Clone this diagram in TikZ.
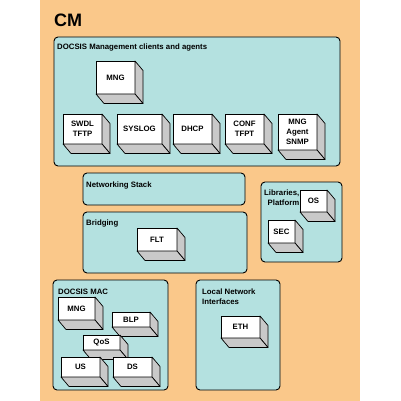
\documentclass[tikz,border=0pt]{standalone}
\usepackage{fontspec}
\setmainfont{Liberation Sans}
\definecolor{cmorange}{HTML}{FAC88A}
\definecolor{panelcyan}{HTML}{B4E1E0}
\newcommand{\cubeblock}[5]{% name, centre, width, height, label
  \node[cubefront,minimum width=#3pt,minimum height=#4pt] (#1) at #2 {#5};
  \filldraw[cubeside] (#1.north east) -- ++(8,9.5)
    -- ([shift={(8,9.5)}]#1.south east) -- (#1.south east) -- cycle;
  \filldraw[cubeside] (#1.south west) -- ([shift={(8,9.5)}]#1.south west)
    -- ([shift={(8,9.5)}]#1.south east) -- (#1.south east) -- cycle;
}

\begin{document}
\begin{tikzpicture}[x=1pt,y=-1pt,
  lbl/.style={font=\bfseries\fontsize{7.8}{10}\selectfont},
  panel/.style={fill=panelcyan,draw=black,line width=0.9pt,rounded corners=4pt},
  paneltitle/.style={lbl,anchor=base west,inner sep=0pt},
  cubefront/.style={lbl,draw=black,fill=white,line width=0.7pt,inner sep=0pt,
    outer sep=0pt,align=center},
  cubeside/.style={fill=gray!42,draw=black,line width=0.7pt,line join=round}]
  \useasboundingbox (0,0) rectangle (401,401);

  % Cable modem background
  \fill[cmorange] (40,0) rectangle (360,401);
  \node[anchor=base west,inner sep=0pt,font=\bfseries\fontsize{18}{20}\selectfont]
    (cm) at (54,27) {CM};

  % Management clients and agents
  \filldraw[panel] (54,37) rectangle (340,166);
  \node[paneltitle] (mgmtT) at (57,50) {DOCSIS Management clients and agents};
  \cubeblock{mngA}{(115.5,77.5)}{39}{33}{MNG}
  \cubeblock{swdl}{(82.5,129)}{39}{30}{SWDL\\TFTP}
  \cubeblock{syslog}{(139.5,129)}{45}{30}{SYSLOG}
  \cubeblock{dhcp}{(192.5,129)}{39}{30}{DHCP}
  \cubeblock{conf}{(244.5,129)}{39}{30}{CONF\\TFPT}
  \cubeblock{snmp}{(297.5,132)}{39}{36}{MNG\\Agent\\SNMP}

  % Networking stack and bridging
  \filldraw[panel] (83,173) rectangle (245,205);
  \node[paneltitle] (netT) at (86,187) {Networking Stack};
  \filldraw[panel] (83,212) rectangle (247,273);
  \node[paneltitle] (brgT) at (86,225) {Bridging};
  \cubeblock{flt}{(157,239.5)}{40}{23}{FLT}

  % Libraries, platform
  \filldraw[panel] (261,182) rectangle (342,262);
  \node[paneltitle,align=right] (libT) at (264,205) {Libraries,\\Platform};
  \cubeblock{os}{(313.5,201)}{27}{22}{OS}
  \cubeblock{sec}{(281.5,231.5)}{27}{23}{SEC}

  % DOCSIS MAC
  \filldraw[panel] (53,280) rectangle (168,390);
  \node[paneltitle] (macT) at (58,294) {DOCSIS MAC};
  \cubeblock{mngB}{(76.5,308.5)}{37}{23}{MNG}
  \cubeblock{blp}{(131,319.5)}{38}{15}{BLP}
  \cubeblock{qos}{(101.5,342.5)}{37}{15}{QoS}
  \cubeblock{us}{(80.5,367)}{39}{20}{US}
  \cubeblock{ds}{(132.5,367)}{39}{20}{DS}

  % Local network interfaces
  \filldraw[panel] (196,280) rectangle (280,390);
  \node[paneltitle,align=left] (lanT) at (202,304) {Local Network\\Interfaces};
  \cubeblock{eth}{(240.5,327)}{39}{22}{ETH}
\end{tikzpicture}
\end{document}
